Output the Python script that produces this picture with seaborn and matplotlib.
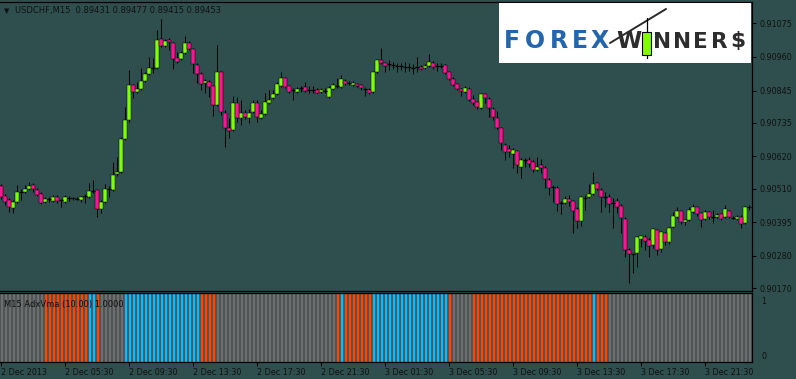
import numpy as np
import pandas as pd
import matplotlib
matplotlib.use("Agg")
import matplotlib.pyplot as plt
import seaborn as sns
from matplotlib.patches import Rectangle
from matplotlib.lines import Line2D

# ---------------- data (USDCHF M15 candles) ----------------
open_ = [
    0.90519, 0.90485, 0.90471, 0.90444, 0.90464, 0.90498, 0.90498, 0.90509, 0.90522, 0.90505,
    0.90491, 0.90464, 0.90474, 0.90468, 0.90481, 0.90471, 0.90464, 0.90478, 0.90478, 0.90474,
    0.90471, 0.90485, 0.90481, 0.90502, 0.90505, 0.90440, 0.90464, 0.90509, 0.90505, 0.90560,
    0.90567, 0.90680, 0.90745, 0.90864, 0.90840, 0.90851, 0.90878, 0.90902, 0.90922, 0.90922,
    0.91022, 0.90998, 0.91018, 0.91008, 0.90957, 0.90953, 0.90974, 0.91008, 0.90987, 0.90933,
    0.90902, 0.90871, 0.90875, 0.90861, 0.90796, 0.90909, 0.90769, 0.90717, 0.90710, 0.90803,
    0.90751, 0.90769, 0.90751, 0.90772, 0.90803, 0.90751, 0.90765, 0.90803, 0.90820, 0.90833,
    0.90861, 0.90888, 0.90861, 0.90847, 0.90840, 0.90854, 0.90857, 0.90847, 0.90847, 0.90847,
    0.90840, 0.90844, 0.90823, 0.90851, 0.90861, 0.90857, 0.90878, 0.90871, 0.90864, 0.90868,
    0.90864, 0.90851, 0.90847, 0.90840, 0.90909, 0.90950, 0.90940, 0.90936, 0.90933, 0.90929,
    0.90929, 0.90926, 0.90926, 0.90922, 0.90926, 0.90926, 0.90922, 0.90929, 0.90940, 0.90929,
    0.90929, 0.90933, 0.90909, 0.90885, 0.90868, 0.90851, 0.90840, 0.90851, 0.90816, 0.90806,
    0.90786, 0.90833, 0.90816, 0.90782, 0.90751, 0.90717, 0.90659, 0.90645, 0.90628, 0.90639,
    0.90584, 0.90608, 0.90608, 0.90601, 0.90574, 0.90591, 0.90580, 0.90539, 0.90515, 0.90512,
    0.90461, 0.90461, 0.90474, 0.90468, 0.90440, 0.90399, 0.90478, 0.90481, 0.90491, 0.90529,
    0.90505, 0.90481, 0.90481, 0.90461, 0.90468, 0.90450, 0.90406, 0.90300, 0.90286, 0.90290,
    0.90338, 0.90344, 0.90334, 0.90317, 0.90368, 0.90303, 0.90358, 0.90327, 0.90379, 0.90413,
    0.90433, 0.90396, 0.90403, 0.90430, 0.90447, 0.90427, 0.90406, 0.90430, 0.90413, 0.90413,
    0.90423, 0.90413, 0.90433, 0.90409, 0.90406, 0.90413, 0.90392, 0.90447,
]
high = [
    0.90526, 0.90491, 0.90478, 0.90471, 0.90522, 0.90509, 0.90522, 0.90533, 0.90529, 0.90512,
    0.90498, 0.90481, 0.90481, 0.90488, 0.90488, 0.90474, 0.90488, 0.90485, 0.90481, 0.90481,
    0.90485, 0.90491, 0.90529, 0.90539, 0.90509, 0.90471, 0.90526, 0.90519, 0.90601, 0.90618,
    0.90686, 0.90789, 0.90916, 0.90868, 0.90875, 0.90922, 0.90909, 0.90960, 0.90957, 0.91052,
    0.91090, 0.91022, 0.91025, 0.91011, 0.90977, 0.90981, 0.91032, 0.91015, 0.90991, 0.90940,
    0.90909, 0.90885, 0.90881, 0.90864, 0.91001, 0.90912, 0.90779, 0.90751, 0.90827, 0.90823,
    0.90813, 0.90779, 0.90782, 0.90813, 0.90813, 0.90779, 0.90837, 0.90847, 0.90847, 0.90875,
    0.90909, 0.90892, 0.90864, 0.90854, 0.90857, 0.90861, 0.90875, 0.90861, 0.90861, 0.90854,
    0.90854, 0.90854, 0.90861, 0.90871, 0.90888, 0.90898, 0.90885, 0.90878, 0.90878, 0.90871,
    0.90868, 0.90857, 0.90854, 0.90912, 0.90953, 0.90991, 0.90943, 0.90950, 0.90943, 0.90940,
    0.90940, 0.90943, 0.90940, 0.90936, 0.90960, 0.90933, 0.90936, 0.90970, 0.90946, 0.90940,
    0.90940, 0.90936, 0.90912, 0.90892, 0.90871, 0.90854, 0.90861, 0.90857, 0.90830, 0.90810,
    0.90837, 0.90837, 0.90823, 0.90789, 0.90775, 0.90721, 0.90666, 0.90659, 0.90649, 0.90642,
    0.90615, 0.90615, 0.90618, 0.90608, 0.90618, 0.90611, 0.90587, 0.90546, 0.90522, 0.90519,
    0.90468, 0.90485, 0.90488, 0.90471, 0.90447, 0.90485, 0.90488, 0.90526, 0.90567, 0.90533,
    0.90512, 0.90498, 0.90491, 0.90478, 0.90478, 0.90457, 0.90413, 0.90307, 0.90290, 0.90348,
    0.90351, 0.90351, 0.90341, 0.90375, 0.90372, 0.90365, 0.90362, 0.90379, 0.90430, 0.90447,
    0.90437, 0.90406, 0.90447, 0.90457, 0.90450, 0.90430, 0.90437, 0.90433, 0.90437, 0.90427,
    0.90427, 0.90454, 0.90437, 0.90416, 0.90420, 0.90420, 0.90450, 0.90454,
]
low = [
    0.90474, 0.90454, 0.90430, 0.90427, 0.90461, 0.90471, 0.90495, 0.90505, 0.90498, 0.90485,
    0.90457, 0.90461, 0.90464, 0.90464, 0.90461, 0.90447, 0.90461, 0.90468, 0.90471, 0.90471,
    0.90464, 0.90461, 0.90478, 0.90495, 0.90413, 0.90427, 0.90461, 0.90481, 0.90502, 0.90553,
    0.90563, 0.90676, 0.90738, 0.90820, 0.90837, 0.90847, 0.90875, 0.90898, 0.90905, 0.90919,
    0.90994, 0.90994, 0.90984, 0.90919, 0.90940, 0.90950, 0.90970, 0.90984, 0.90905, 0.90871,
    0.90847, 0.90837, 0.90823, 0.90758, 0.90792, 0.90762, 0.90652, 0.90683, 0.90707, 0.90738,
    0.90727, 0.90748, 0.90734, 0.90769, 0.90738, 0.90748, 0.90762, 0.90799, 0.90816, 0.90830,
    0.90857, 0.90854, 0.90837, 0.90813, 0.90837, 0.90840, 0.90840, 0.90837, 0.90837, 0.90833,
    0.90837, 0.90837, 0.90820, 0.90847, 0.90854, 0.90854, 0.90864, 0.90864, 0.90861, 0.90857,
    0.90847, 0.90827, 0.90833, 0.90837, 0.90905, 0.90936, 0.90909, 0.90916, 0.90919, 0.90909,
    0.90916, 0.90909, 0.90912, 0.90902, 0.90909, 0.90916, 0.90919, 0.90926, 0.90919, 0.90912,
    0.90922, 0.90902, 0.90881, 0.90861, 0.90847, 0.90827, 0.90837, 0.90810, 0.90796, 0.90782,
    0.90782, 0.90803, 0.90755, 0.90745, 0.90714, 0.90642, 0.90608, 0.90618, 0.90580, 0.90563,
    0.90546, 0.90584, 0.90584, 0.90567, 0.90570, 0.90563, 0.90512, 0.90488, 0.90464, 0.90433,
    0.90423, 0.90457, 0.90450, 0.90358, 0.90375, 0.90382, 0.90437, 0.90478, 0.90488, 0.90505,
    0.90430, 0.90447, 0.90430, 0.90375, 0.90427, 0.90358, 0.90276, 0.90187, 0.90221, 0.90242,
    0.90310, 0.90300, 0.90276, 0.90307, 0.90283, 0.90293, 0.90317, 0.90320, 0.90375, 0.90409,
    0.90389, 0.90385, 0.90399, 0.90427, 0.90416, 0.90379, 0.90403, 0.90406, 0.90392, 0.90409,
    0.90403, 0.90409, 0.90409, 0.90406, 0.90403, 0.90375, 0.90389, 0.90437,
]
close = [
    0.90481, 0.90464, 0.90447, 0.90464, 0.90498, 0.90498, 0.90509, 0.90519, 0.90509, 0.90488,
    0.90461, 0.90474, 0.90474, 0.90481, 0.90468, 0.90471, 0.90481, 0.90478, 0.90478, 0.90474,
    0.90481, 0.90485, 0.90502, 0.90502, 0.90440, 0.90464, 0.90509, 0.90509, 0.90556, 0.90567,
    0.90680, 0.90745, 0.90864, 0.90840, 0.90851, 0.90878, 0.90902, 0.90922, 0.90922, 0.91018,
    0.90998, 0.91015, 0.91011, 0.90953, 0.90943, 0.90974, 0.91008, 0.90987, 0.90936, 0.90902,
    0.90868, 0.90878, 0.90857, 0.90796, 0.90909, 0.90772, 0.90717, 0.90707, 0.90803, 0.90751,
    0.90769, 0.90755, 0.90769, 0.90803, 0.90755, 0.90765, 0.90806, 0.90813, 0.90833, 0.90868,
    0.90888, 0.90857, 0.90840, 0.90847, 0.90851, 0.90854, 0.90844, 0.90847, 0.90847, 0.90837,
    0.90847, 0.90844, 0.90854, 0.90864, 0.90861, 0.90885, 0.90868, 0.90871, 0.90871, 0.90861,
    0.90854, 0.90851, 0.90837, 0.90909, 0.90950, 0.90940, 0.90929, 0.90936, 0.90933, 0.90929,
    0.90929, 0.90926, 0.90926, 0.90922, 0.90926, 0.90919, 0.90929, 0.90943, 0.90926, 0.90929,
    0.90929, 0.90905, 0.90885, 0.90864, 0.90851, 0.90844, 0.90854, 0.90813, 0.90803, 0.90789,
    0.90833, 0.90820, 0.90786, 0.90755, 0.90717, 0.90666, 0.90635, 0.90635, 0.90642, 0.90591,
    0.90608, 0.90608, 0.90594, 0.90574, 0.90584, 0.90580, 0.90543, 0.90512, 0.90515, 0.90457,
    0.90461, 0.90474, 0.90464, 0.90433, 0.90399, 0.90481, 0.90478, 0.90491, 0.90526, 0.90509,
    0.90481, 0.90481, 0.90457, 0.90461, 0.90447, 0.90409, 0.90300, 0.90286, 0.90286, 0.90344,
    0.90348, 0.90331, 0.90314, 0.90372, 0.90300, 0.90362, 0.90327, 0.90375, 0.90416, 0.90433,
    0.90396, 0.90403, 0.90437, 0.90447, 0.90423, 0.90403, 0.90430, 0.90413, 0.90413, 0.90420,
    0.90406, 0.90440, 0.90413, 0.90409, 0.90413, 0.90389, 0.90447, 0.90447,
]

price_ticks = [0.91075, 0.90960, 0.90845, 0.90735, 0.90620, 0.90510, 0.90395, 0.90280, 0.90170]
price_tick_labels = ["0.91075", "0.90960", "0.90845", "0.90735", "0.90620",
                     "0.90510", "0.90395", "0.90280", "0.90170"]

time_tick_bars = [0, 16, 32, 48, 64, 80, 96, 112, 128, 144, 160, 176]
time_tick_labels = ["2 Dec 2013", "2 Dec 05:30", "2 Dec 09:30", "2 Dec 13:30",
                    "2 Dec 17:30", "2 Dec 21:30", "3 Dec 01:30", "3 Dec 05:30",
                    "3 Dec 09:30", "3 Dec 13:30", "3 Dec 17:30", "3 Dec 21:30"]

# AdxVma histogram state, as runs of (state, number of bars)
trend_runs = [("flat", 11), ("down", 11), ("up", 2), ("down", 1), ("flat", 6),
              ("up", 19), ("down", 4), ("flat", 30), ("down", 1), ("up", 1),
              ("down", 7), ("up", 19), ("down", 1), ("flat", 5), ("down", 30),
              ("up", 1), ("down", 3), ("flat", 36)]
indicator_level = 1.0
indicator_ticks = [0, 1]

title_text = "USDCHF,M15  0.89431 0.89477 0.89415 0.89453"
indicator_text = "M15 AdxVma (10.00) 1.0000"

# ---------------- styling ----------------
BG = "#2F4F4F"
BULL = "#7FFF00"
BEAR = "#FF1493"
TXT = "#101010"
state_colors = {"flat": "#6E6E6E", "down": "#FF4500", "up": "#00BFFF"}

sns.set_theme(style="dark")
plt.rcParams["font.family"] = ["DejaVu Sans"]

W, H = 796, 379
fig = plt.figure(figsize=(W / 100, H / 100), dpi=100, facecolor=BG)

ax = fig.add_axes([0, 1 - 291 / H, 752 / W, 289 / H])
ax2 = fig.add_axes([0, 1 - 362 / H, 752 / W, 69 / H])

for a in (ax, ax2):
    a.set_facecolor(BG)
    for s in a.spines.values():
        s.set_color("black")
        s.set_linewidth(0.9)
    a.spines["left"].set_visible(False)

o = np.array(open_)
h = np.array(high)
l = np.array(low)
c = np.array(close)
x = np.arange(len(c))

# wicks
ax.vlines(x, l, h, color="black", linewidth=0.75, zorder=2)
# bodies
up = c > o
dn = c < o
eq = c == o
ax.bar(x[up], (c - o)[up], bottom=o[up], width=0.8, color=BULL,
       edgecolor="black", linewidth=0.35, zorder=3)
ax.bar(x[dn], (o - c)[dn], bottom=c[dn], width=0.8, color=BEAR,
       edgecolor="black", linewidth=0.35, zorder=3)
ax.hlines(o[eq], x[eq] - 0.45, x[eq] + 0.45, color="black", linewidth=0.9, zorder=3)

ax.set_xlim(-0.25, len(c) - 0.25)
ax.set_ylim(0.90160, 0.91148)
ax.set_xticks([])
ax.yaxis.tick_right()
ax.set_yticks(price_ticks)
ax.set_yticklabels(price_tick_labels)
ax.tick_params(axis="y", right=True, left=False, length=3, width=0.8, color="black",
               pad=2.5, labelsize=5.8, labelcolor=TXT, direction="out")
ax.grid(False)

# ---------------- indicator (seaborn) ----------------
states = []
for name, n in trend_runs:
    states += [name] * n
df_ind = pd.DataFrame({"bar": x, "value": indicator_level, "state": states})
sns.barplot(data=df_ind, x="bar", y="value", hue="state", palette=state_colors,
            native_scale=True, width=0.75, dodge=False, legend=False, saturation=1,
            edgecolor="#4A5050", linewidth=0.5, errorbar=None, ax=ax2)
ax2.set_facecolor("#4A5050")
ax2.set_xlim(-0.25, len(c) - 0.25)
ax2.set_ylim(0, 1)
ax2.set_xlabel("")
ax2.set_ylabel("")
ax2.grid(False)
ax2.yaxis.tick_right()
ax2.set_yticks(indicator_ticks)
ax2.set_yticklabels([])
ax2.tick_params(axis="y", right=True, left=False, length=0)
ax2.text(1.012, 0.87, "1", transform=ax2.transAxes, fontsize=5.8, color=TXT,
         va="center", ha="left")
ax2.text(1.012, 0.08, "0", transform=ax2.transAxes, fontsize=5.8, color=TXT,
         va="center", ha="left")
ax2.set_xticks(time_tick_bars)
ax2.set_xticklabels(time_tick_labels, ha="left")
ax2.tick_params(axis="x", bottom=True, length=3, width=0.8, color="black", pad=1.5,
                labelsize=5.8, labelcolor=TXT, direction="out")
ax2.text(4 / 752, 1 - 11 / 69, indicator_text, transform=ax2.transAxes, fontsize=6,
         color=TXT, va="center", ha="left")

# ---------------- header text ----------------
fig.text(7 / W, 1 - 11 / H, "\u25BC", fontsize=5, color=TXT, ha="center", va="center")
fig.text(15 / W, 1 - 11 / H, title_text, fontsize=6, color=TXT, ha="left", va="center")

# ---------------- logo box ----------------
def fx(px):
    return px / W


def fy(py):
    return 1 - py / H


fig.add_artist(Rectangle((fx(499), fy(63)), 252 / W, 60 / H, transform=fig.transFigure,
                         facecolor="white", edgecolor="none", zorder=10))
fig.add_artist(Line2D([fx(610), fx(666)], [fy(43), fy(9)], transform=fig.transFigure,
                      color="#2a2a2a", linewidth=1.4, zorder=11))
for ch, cx in [("F", 512), ("O", 534.5), ("R", 559), ("E", 580), ("X", 600)]:
    fig.text(fx(cx), fy(40.5), ch, fontsize=17, fontweight="bold", color="#2366AD",
             ha="center", va="center", zorder=12)
fig.text(fx(628.5), fy(41.5), "W", fontsize=16.5, fontweight="bold", color="#2d2d2d",
         ha="center", va="center", zorder=12)
for ch, cx in [("N", 662), ("N", 682), ("E", 700.5), ("R", 719), ("$", 738)]:
    fig.text(fx(cx), fy(41.5), ch, fontsize=15.5, fontweight="bold", color="#2d2d2d",
             ha="center", va="center", zorder=12)
fig.add_artist(Line2D([fx(646.5), fx(646.5)], [fy(18), fy(58)], transform=fig.transFigure,
                      color="black", linewidth=0.9, zorder=12))
fig.add_artist(Rectangle((fx(642), fy(55)), 9 / W, 23 / H, transform=fig.transFigure,
                         facecolor=BULL, edgecolor="black", linewidth=0.8, zorder=13))

fig.savefig("out.png", dpi=100, facecolor=BG)
